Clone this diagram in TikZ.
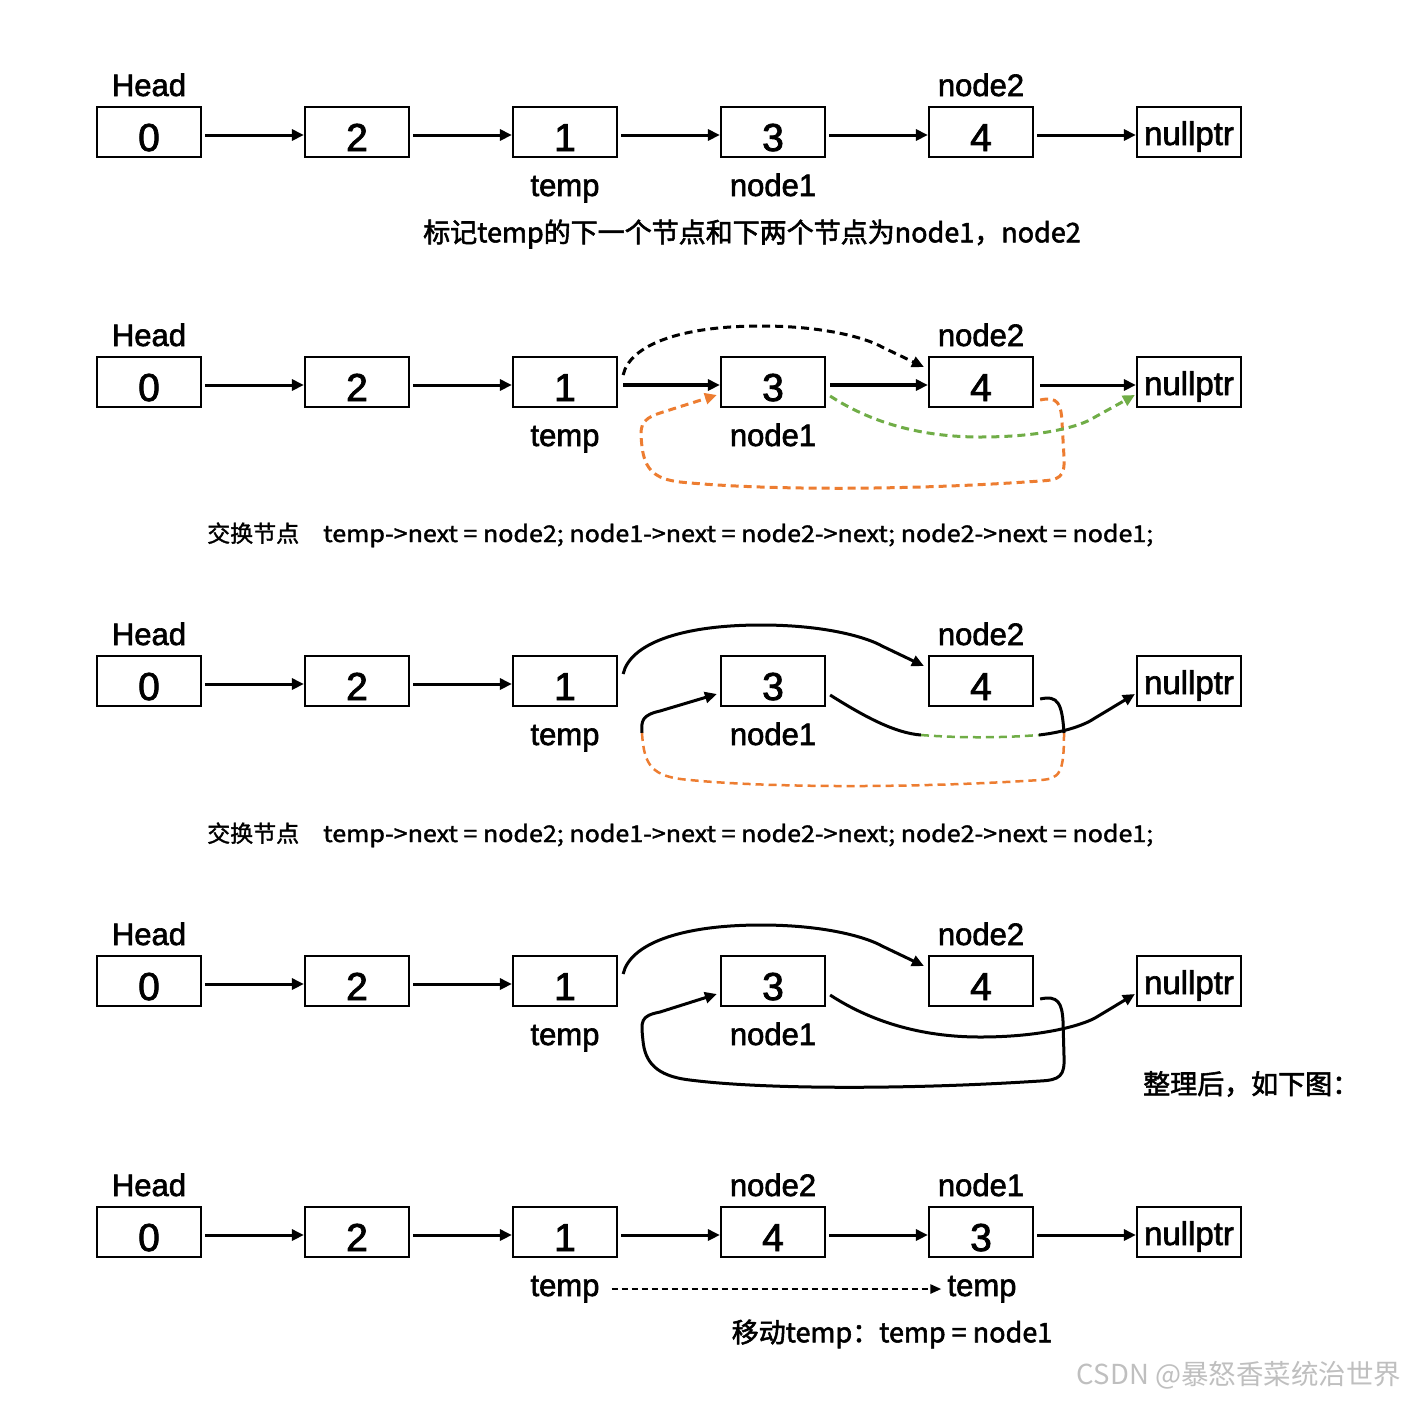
\documentclass[tikz,border=0pt]{standalone}
\usepackage{fontspec}
\setmainfont{Liberation Sans}
\newfontfamily\labfont{Liberation Sans}[FakeBold=2]
\newfontfamily\cjk{Noto Sans CJK SC}
\newfontfamily\cjkm{Noto Sans CJK SC}[FakeBold=2]
\newfontfamily\cjks{Noto Sans CJK SC}[FakeBold=1.5]
\usetikzlibrary{arrows.meta}
\definecolor{orng}{RGB}{237,125,49}
\definecolor{grn}{RGB}{112,173,71}
\begin{document}
\begin{tikzpicture}[x=1pt,y=-1pt,
  box/.style={draw,line width=2.2pt,minimum width=104pt,minimum height=50pt,inner sep=0pt,
    font=\labfont\fontsize{39}{40}\selectfont,text height=38pt,text depth=0pt},
  nbox/.style={box,font=\labfont\fontsize{33}{34}\selectfont,text height=26pt,text depth=0pt},
  lbl/.style={anchor=base,inner sep=0pt,font=\labfont\fontsize{31}{33}\selectfont},
  tip/.style={-{Triangle[length=12pt,width=11pt]}},
  arr/.style={line width=3pt,tip},
  barr/.style={line width=4.5pt,tip},
  dsh/.style={dash pattern=on 8pt off 5pt},
  captxt/.style={inner sep=0pt,font=\cjkm\fontsize{27}{30}\selectfont},
  scap/.style={inner sep=0pt,anchor=base west,font=\cjks\fontsize{23}{26}\selectfont}]
\useasboundingbox (0,0) rectangle (1404,1401);

% ---------------- Row 1 ----------------
\begin{scope}[shift={(0,132)}]
\node[box] (a1) at (149,0) {0};
\node[box] (a2) at (357,0) {2};
\node[box] (a3) at (565,0) {1};
\node[box] (a4) at (773,0) {3};
\node[box] (a5) at (981,0) {4};
\node[nbox] (a6) at (1189,0) {nullptr};
\node[lbl] (ah) at (149,-36) {Head};
\node[lbl] (an2) at (981,-36) {node2};
\node[lbl] (at) at (565,64) {temp};
\node[lbl] (an1) at (773,64) {node1};
\foreach \i/\j in {a1/a2,a2/a3,a3/a4,a4/a5,a5/a6}
  \draw[arr] ([shift={(3,3)}]\i.east) -- ([shift={(0,3)}]\j.west);
\end{scope}
\node[captxt] (c1) at (752,234) {标记temp的下一个节点和下两个节点为node1，node2};

% ---------------- Row 2 ----------------
\begin{scope}[shift={(0,382)}]
\node[box] (b1) at (149,0) {0};
\node[box] (b2) at (357,0) {2};
\node[box] (b3) at (565,0) {1};
\node[box] (b4) at (773,0) {3};
\node[box] (b5) at (981,0) {4};
\node[nbox] (b6) at (1189,0) {nullptr};
\node[lbl] (bh) at (149,-36) {Head};
\node[lbl] (bn2) at (981,-36) {node2};
\node[lbl] (bt) at (565,64) {temp};
\node[lbl] (bn1) at (773,64) {node1};
\draw[arr] ([shift={(3,3)}]b1.east) -- ([shift={(0,3)}]b2.west);
\draw[arr] ([shift={(3,3)}]b2.east) -- ([shift={(0,3)}]b3.west);
\draw[barr] ([shift={(5,3)}]b3.east) -- ([shift={(0,3)}]b4.west);
\draw[barr] ([shift={(4,3)}]b4.east) -- ([shift={(0,3)}]b5.west);
\draw[arr] ([shift={(6,3)}]b5.east) -- ([shift={(0,3)}]b6.west);
\draw[arr,dsh] ([shift={(5,-7)}]b3.east) .. controls (630,-37) and (680,-56) .. (761,-56)
  .. controls (830,-56) and (870,-42) .. (882,-35) -- ([shift={(-4,-15)}]b5.west);
\draw[arr,dsh,orng] ([shift={(6,18)}]b5.east) .. controls (1058,14) and (1061,22) .. (1062,40) -- (1064,75)
  .. controls (1065,95) and (1060,98) .. (1040,99) .. controls (900,109) and (760,108) .. (680,100)
  .. controls (655,97) and (645,88) .. (642,65) .. controls (640,45) and (639,38) .. (660,31)
  -- ([shift={(-3,13)}]b4.west);
\draw[arr,dsh,grn] ([shift={(4,14)}]b4.east) .. controls (870,40) and (920,55) .. (980,55)
  .. controls (1040,55) and (1080,45) .. (1095,35) -- ([shift={(-1,13)}]b6.west);
\end{scope}
\node[scap] (c2a) at (207,542) {交换节点};
\node[scap] (c2b) at (323,542) {\resizebox{830pt}{\height}{temp->next = node2; node1->next = node2->next; node2->next = node1;}};

% ---------------- Row 3 ----------------
\begin{scope}[shift={(0,681)}]
\node[box] (d1) at (149,0) {0};
\node[box] (d2) at (357,0) {2};
\node[box] (d3) at (565,0) {1};
\node[box] (d4) at (773,0) {3};
\node[box] (d5) at (981,0) {4};
\node[nbox] (d6) at (1189,0) {nullptr};
\node[lbl] (dh) at (149,-36) {Head};
\node[lbl] (dn2) at (981,-36) {node2};
\node[lbl] (dt) at (565,64) {temp};
\node[lbl] (dn1) at (773,64) {node1};
\draw[arr] ([shift={(3,3)}]d1.east) -- ([shift={(0,3)}]d2.west);
\draw[arr] ([shift={(3,3)}]d2.east) -- ([shift={(0,3)}]d3.west);
\draw[arr] ([shift={(5,-7)}]d3.east) .. controls (630,-37) and (680,-56) .. (761,-56)
  .. controls (830,-56) and (870,-42) .. (882,-35) -- ([shift={(-4,-15)}]d5.west);
\coordinate (dl) at (642,52);
\coordinate (dr) at (1064,52);
\draw[arr] (dl) .. controls (641,40) and (642,34) .. (660,30) -- ([shift={(-3,13)}]d4.west);
\draw[line width=2.5pt,dsh,orng] (dl) .. controls (644,85) and (652,96) .. (690,99)
  .. controls (760,106) and (900,108) .. (1040,99) .. controls (1060,98) and (1064,92) .. (dr);
\draw[line width=3pt] ([shift={(6,18)}]d5.east) .. controls (1058,14) and (1062,22) .. (dr);
\coordinate (dg1) at (921,54);
\coordinate (dg2) at (1039,54);
\draw[line width=3pt] ([shift={(4,14)}]d4.east) .. controls (865,36) and (895,52) .. (dg1);
\draw[line width=2.5pt,dsh,grn] (dg1) .. controls (960,57) and (1000,57) .. (dg2);
\draw[arr] (dg2) .. controls (1065,51) and (1085,44) .. (1095,37) -- ([shift={(-1,13)}]d6.west);
\end{scope}
\node[scap] (c3a) at (207,842) {交换节点};
\node[scap] (c3b) at (323,842) {\resizebox{830pt}{\height}{temp->next = node2; node1->next = node2->next; node2->next = node1;}};

% ---------------- Row 4 ----------------
\begin{scope}[shift={(0,981)}]
\node[box] (e1) at (149,0) {0};
\node[box] (e2) at (357,0) {2};
\node[box] (e3) at (565,0) {1};
\node[box] (e4) at (773,0) {3};
\node[box] (e5) at (981,0) {4};
\node[nbox] (e6) at (1189,0) {nullptr};
\node[lbl] (eh) at (149,-36) {Head};
\node[lbl] (en2) at (981,-36) {node2};
\node[lbl] (et) at (565,64) {temp};
\node[lbl] (en1) at (773,64) {node1};
\draw[arr] ([shift={(3,3)}]e1.east) -- ([shift={(0,3)}]e2.west);
\draw[arr] ([shift={(3,3)}]e2.east) -- ([shift={(0,3)}]e3.west);
\draw[arr] ([shift={(5,-7)}]e3.east) .. controls (630,-37) and (680,-56) .. (761,-56)
  .. controls (830,-56) and (870,-42) .. (882,-35) -- ([shift={(-4,-15)}]e5.west);
\draw[arr] ([shift={(4,14)}]e4.east) .. controls (870,40) and (920,56) .. (980,56)
  .. controls (1040,56) and (1080,45) .. (1095,37) -- ([shift={(-1,13)}]e6.west);
\draw[arr] ([shift={(6,18)}]e5.east) .. controls (1058,14) and (1062,22) .. (1063,40) -- (1064,75)
  .. controls (1065,95) and (1060,99) .. (1040,100) .. controls (900,109) and (760,108) .. (690,99)
  .. controls (655,95) and (645,80) .. (643,60) .. controls (641,40) and (640,35) .. (660,31)
  -- ([shift={(-3,13)}]e4.west);
\end{scope}
\node[captxt,anchor=west] (c4) at (1143,1084) {整理后，如下图：};

% ---------------- Row 5 ----------------
\begin{scope}[shift={(0,1232)}]
\node[box] (f1) at (149,0) {0};
\node[box] (f2) at (357,0) {2};
\node[box] (f3) at (565,0) {1};
\node[box] (f4) at (773,0) {4};
\node[box] (f5) at (981,0) {3};
\node[nbox] (f6) at (1189,0) {nullptr};
\node[lbl] (fh) at (149,-36) {Head};
\node[lbl] (fn2) at (773,-36) {node2};
\node[lbl] (fn1) at (981,-36) {node1};
\node[lbl] (ft1) at (565,64) {temp};
\node[lbl] (ft2) at (982,64) {temp};
\foreach \i/\j in {f1/f2,f2/f3,f3/f4,f4/f5,f5/f6}
  \draw[arr] ([shift={(3,3)}]\i.east) -- ([shift={(0,3)}]\j.west);
\draw[line width=2.5pt,dash pattern=on 6pt off 4pt,-{Triangle[length=11pt,width=9pt]}]
  ([shift={(12,-7)}]ft1.base east) -- ([shift={(-6,-7)}]ft2.base west);
\end{scope}
\node[captxt] (c5) at (892,1334) {移动temp：temp = node1};
\node[inner sep=0pt,text=black!25,font=\cjk\fontsize{27.5}{30}\selectfont] (wm) at (1239,1375) {CSDN @暴怒香菜统治世界};
\end{tikzpicture}
\end{document}
